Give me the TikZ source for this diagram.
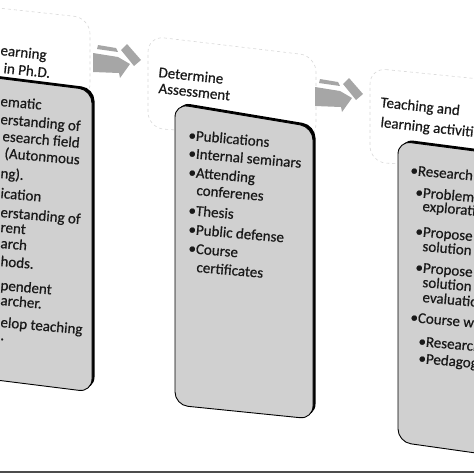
\documentclass[tikz,border=0pt]{standalone}
\usepackage{fontspec}
\setmainfont{Carlito}
\newfontfamily\diagfont{Carlito}[FakeBold=0.6]
\definecolor{boxfill}{HTML}{D0D0D0}
\definecolor{arrowc}{HTML}{A6A6A6}
\definecolor{txtc}{HTML}{1A1A1A}
\definecolor{halo}{HTML}{D8D8D8}
\begin{document}
\begin{tikzpicture}[x=1pt,y=-1pt,
  txtbase/.style={anchor=base west, inner sep=0pt, text=txtc, font=\diagfont\fontsize{15}{17}\selectfont},
  ln/.style={txtbase, rotate=-5},
  hd/.style={txtbase, rotate=-6},
  outerbox/.style={draw=halo, dashed, line width=0.6pt, rounded corners=16pt},
  innerbox/.style={draw=black, fill=boxfill, line width=0.9pt, rounded corners=13pt},
  shadowbox/.style={fill=black, rounded corners=13pt},
  arrowpart/.style={fill=arrowc}
]
\useasboundingbox (0,0) rectangle (474,474);
\clip (0,0) rectangle (474,474);

% outer (header) boxes
\draw[outerbox] (-20,6) -- (90,18) -- (90,100) -- (-20,90) -- cycle;
\draw[outerbox] (148,36) -- (316,56) -- (316,140) -- (148,128) -- cycle;
\draw[outerbox] (370,68) -- (490,80) -- (490,170) -- (370,162) -- cycle;

% arrows
\begin{scope}
  \fill[arrowpart] (98,45) -- (116,48) -- (118,52) -- (97,49) -- cycle;
  \fill[arrowpart] (93,53) -- (118,57) -- (130,64) -- (120,78) -- (119,73) -- (93,72) -- cycle;
  \fill[arrowpart] (121,50) -- (127,44) -- (141,60) -- (134,66) -- cycle;
\end{scope}
\begin{scope}[shift={(222,34)}]
  \fill[arrowpart] (98,45) -- (116,48) -- (118,52) -- (97,49) -- cycle;
  \fill[arrowpart] (93,53) -- (118,57) -- (130,64) -- (120,78) -- (119,73) -- (93,72) -- cycle;
  \fill[arrowpart] (121,50) -- (127,44) -- (141,60) -- (134,66) -- cycle;
\end{scope}

% inner boxes with shadow on top/right
\begin{scope}[shift={(2.5,-2)}]
  \fill[shadowbox] (-20,76) -- (92,90) -- (92,392) -- (-20,378) -- cycle;
  \fill[shadowbox] (175,104) -- (313,127) -- (313,419) -- (175,405) -- cycle;
  \fill[shadowbox] (398,141) -- (490,153) -- (490,455) -- (398,442) -- cycle;
\end{scope}
\draw[innerbox] (-20,76) -- (92,90) -- (92,392) -- (-20,378) -- cycle;
\draw[innerbox] (175,104) -- (313,127) -- (313,419) -- (175,405) -- cycle;
\draw[innerbox] (398,141) -- (490,153) -- (490,455) -- (398,442) -- cycle;

% panel 1 header
\node[hd] (h1a) at (0,55) {earning};
\node[hd] (h1b) at (3,73) {in Ph.D.};
% panel 1 body
\node[ln] (a1) at (0,106) {ematic};
\node[ln] (a2) at (0,124) {erstanding of};
\node[ln] (a3) at (2,141) {esearch field};
\node[ln] (a4) at (4,158) {(Autonmous};
\node[ln] (a5) at (0,178) {ng).};
\node[ln] (a6) at (0,198) {ication};
\node[ln] (a7) at (0,217) {erstanding of};
\node[ln] (a8) at (0,232) {rent};
\node[ln] (a9) at (0,248) {arch};
\node[ln] (a10) at (0,266) {hods.};
\node[ln] (a11) at (0,290) {pendent};
\node[ln] (a12) at (0,305) {archer.};
\node[ln] (a13) at (0,327) {elop teaching};
\node[ln] (a14) at (0,340) {.};

% panel 2 header
\node[hd] (h2a) at (158,77) {Determine};
\node[hd] (h2b) at (158,93) {Assessment};
% panel 2 body
\node[ln] (b1) at (188,140) {•Publications};
\node[ln] (b2) at (188,158) {•Internal seminars};
\node[ln] (b3) at (188,177) {•Attending};
\node[ln] (b4) at (196,195) {conferenes};
\node[ln] (b5) at (188,215) {•Thesis};
\node[ln] (b6) at (188,234) {•Public defense};
\node[ln] (b7) at (188,253) {•Course};
\node[ln] (b8) at (196,272) {certificates};

% panel 3 header
\node[hd] (h3a) at (380,107) {Teaching and};
\node[hd] (h3b) at (380,127) {learning activiti};
% panel 3 body
\node[ln] (c1) at (410,175) {•Research};
\node[ln] (c2) at (415,197) {•Problem};
\node[ln] (c3) at (422,211) {explorati};
\node[ln] (c4) at (415,236) {•Propose};
\node[ln] (c5) at (422,251) {solution};
\node[ln] (c6) at (415,272) {•Propose};
\node[ln] (c7) at (422,287) {solution};
\node[ln] (c8) at (422,302) {evaluatio};
\node[ln] (c9) at (410,322) {•Course w};
\node[ln] (c10) at (418,346) {•Research};
\node[ln] (c11) at (418,363) {•Pedagog};

% bottom rule
\draw[line width=2pt, gray!60!black] (0,471.5) -- (474,471.5);
\end{tikzpicture}
\end{document}
